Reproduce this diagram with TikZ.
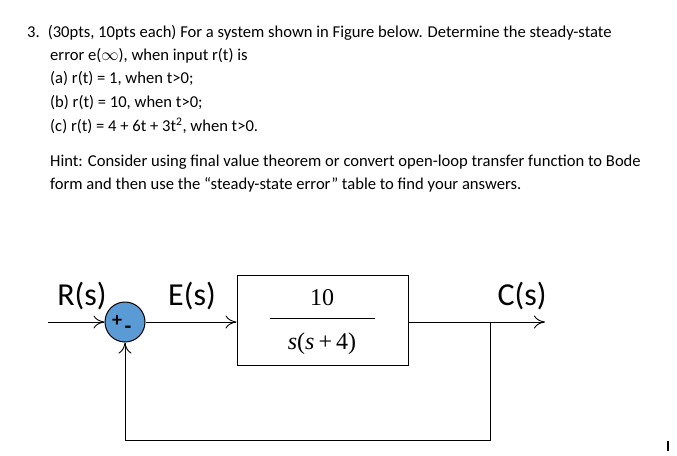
\documentclass[tikz,border=0pt]{standalone}
\usepackage{fontspec}
\setmainfont{Carlito}
\newfontfamily\tnr{Liberation Serif}
\usetikzlibrary{arrows.meta}
\definecolor{sumblue}{RGB}{91,155,213}
\begin{document}
\begin{tikzpicture}[x=1pt,y=-1pt,
  txt/.style={anchor=west,inner sep=0pt,font=\fontsize{16.6}{19}\selectfont},
  lbl/.style={inner sep=0pt,font=\fontsize{32}{34}\selectfont},
  ln/.style={draw,line width=0.9pt},
  arr/.style={ln,-{To[length=11pt,width=13pt]}}]
\useasboundingbox (0,0) rectangle (677,455);
\node[txt] (q1) at (27,33) {3.\hspace{8pt}(30pts, 10pts each) For a system shown in Figure below. Determine the steady-state};
\node[txt] (q2) at (50,56) {error e($\infty$), when input r(t) is};
\node[txt] (q3) at (50,79) {(a) r(t) = 1, when t>0;};
\node[txt] (q4) at (50,103) {(b) r(t) = 10, when t>0;};
\node[txt] (q5) at (50,126) {(c) r(t) = 4 + 6t + 3t\textsuperscript{2}, when t>0.};
\node[txt] (h1) at (50,162) {Hint: Consider using final value theorem or convert open-loop transfer function to Bode};
\node[txt] (h2) at (50,185) {form and then use the “steady-state error” table to find your answers.};
\node[draw,circle,fill=sumblue,line width=1pt,minimum size=40pt,inner sep=0pt] (sum) at (125,322) {};
\node[font=\bfseries\fontsize{20}{20}\selectfont,inner sep=0pt] (plus) at (117,321) {+};
\node[font=\bfseries\fontsize{22}{22}\selectfont,inner sep=0pt] (minus) at (128,330) {-};
\node[draw,line width=0.9pt,minimum width=171pt,minimum height=90pt,inner sep=0pt] (G) at (322.5,320) {};
\node[inner sep=0pt,font=\tnr\fontsize{24}{26}\selectfont] (num) at (322,298) {10};
\node[inner sep=0pt,font=\tnr\fontsize{24}{26}\selectfont] (den) at (322,344) {\textit{s}(\textit{s}\,+\,4)};
\coordinate (fl) at (270,318); \coordinate (fr) at (375,318);
\draw[line width=0.9pt] (fl) -- (fr);
\node[lbl] (R) at (82,296) {R(s)};
\node[lbl] (E) at (192,296) {E(s)};
\node[lbl] (C) at (522,296) {C(s)};
\coordinate (in) at (48,322);
\coordinate (out) at (545,322);
\coordinate (br) at (490,322);
\coordinate (fb1) at (490,440);
\coordinate (fb2) at (125,440);
\draw[arr] (in) -- (sum.west);
\draw[arr] (sum.east) -- (G.west |- sum.east);
\draw[arr] (G.east |- sum.east) -- (out);
\draw[arr] (br) -- (fb1) -- (fb2) -- (sum.south);
\coordinate (m1) at (668,441); \coordinate (m2) at (668,451);
\draw[line width=2.5pt] (m1) -- (m2);
\end{tikzpicture}
\end{document}
